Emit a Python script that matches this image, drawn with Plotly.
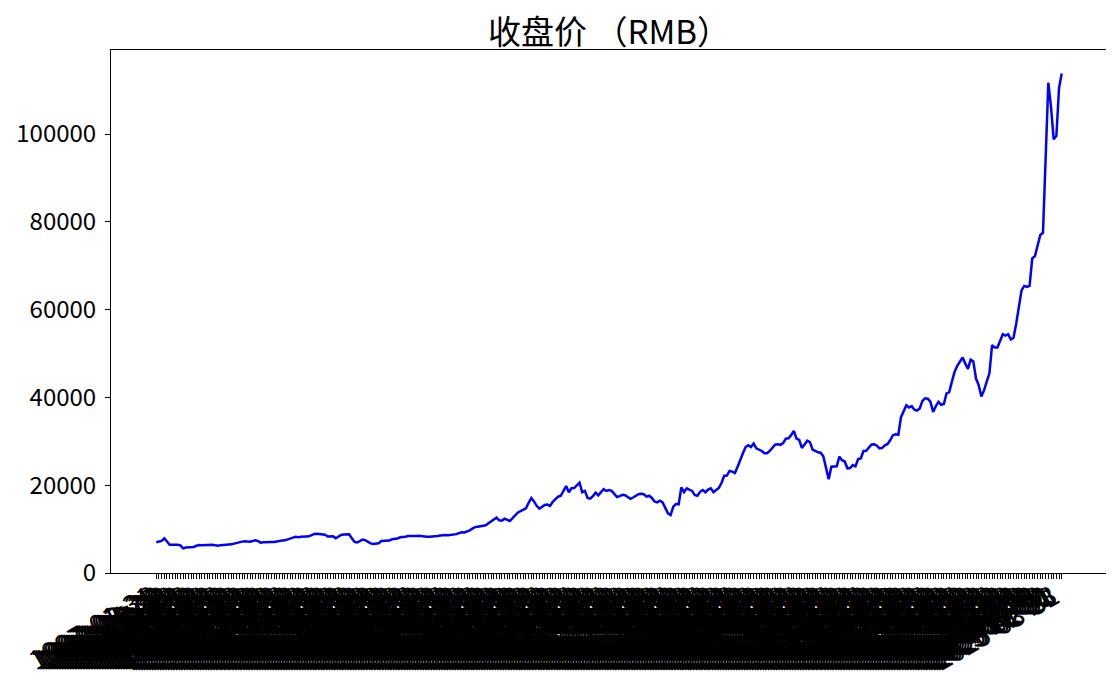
import pandas as pd
import plotly.graph_objects as go

# Tick labels (monthly dates, unreadable in the reference, dense rotated band)
dates = pd.date_range("1997-01-31", periods=339, freq="ME").strftime("%Y-%m-%d").tolist()

# Closing price values (RMB)
close_1 = [7000, 7100, 7300, 7900, 7100, 6450, 6450, 6500, 6450, 6300,
           5600, 5800, 5850, 5880, 5920, 6200, 6380, 6300, 6350, 6450,
           6530, 6450, 6300, 6220, 6350, 6450, 6480, 6500, 6530, 6700,
           6900, 7050, 7150, 7220, 7180, 7140, 7300, 7440, 7250, 6900,
           7000, 7060, 7000, 7050, 7060, 7200, 7360, 7400, 7440, 7600,
           7820, 8050, 8270, 8130, 8250, 8360, 8340, 8360, 8600, 8900,
           8950, 8900, 8880, 8700, 8300, 8250, 8360, 7900, 8300, 8650,
           8750, 8800, 8810, 7900, 7100, 6950, 7300, 7600, 7500, 7100,
           6750, 6600, 6700, 6760, 7290, 7320, 7350, 7400, 7670, 7700,
           7850, 8130, 8120, 8250, 8430, 8400, 8360, 8450, 8500, 8400]
close_2 = [8270, 8250, 8260, 8270, 8350, 8450, 8550, 8700, 8680, 8590,
           8650, 8750, 8850, 9100, 9270, 9250, 9400, 9700, 10100, 10450,
           10550, 10700, 10750, 10860, 11350, 11800, 12200, 12600, 12000, 11900,
           12370, 12100, 11850, 12500, 13200, 13800, 14100, 14350, 14740, 16000,
           17100, 16300, 15300, 14650, 15100, 15500, 15600, 15300, 16200, 16900,
           17380, 17600, 18600, 19800, 18400, 19300, 19360, 20000, 20570, 18400,
           18700, 17100, 16930, 17500, 18290, 17700, 18400, 19100, 18700, 18900,
           18700, 18100, 17300, 17500, 17800, 17700, 17300, 16900, 17200, 17600,
           17950, 18050, 17950, 17400, 17600, 17100, 16300, 16100, 16470, 16100,
           15000, 13600, 13210, 15100, 15700, 15650, 19500, 18400, 19290, 19000]
close_3 = [18700, 17800, 17600, 18500, 18900, 18400, 19000, 19300, 18400, 18900,
           19400, 20500, 22150, 22200, 23250, 23100, 22780, 24200, 25900, 27300,
           28700, 29100, 28700, 29500, 28400, 28100, 27800, 27300, 27300, 27800,
           28600, 29250, 29350, 29200, 29600, 30600, 30680, 31400, 32400, 30600,
           30300, 28500, 29300, 30140, 29800, 28100, 27800, 27500, 27400, 26600,
           24000, 21340, 24200, 24200, 24300, 26500, 25700, 25400, 23850, 23900,
           24600, 24300, 25950, 26100, 27800, 27850, 28600, 29300, 29320, 29000,
           28400, 28500, 29100, 29400, 30300, 31400, 31600, 31500, 35500, 37000,
           38200, 37700, 38000, 37200, 37000, 37500, 39200, 39800, 39700, 39000,
           36700, 38000, 39000, 38300, 38500, 40930, 41200, 43600, 45800, 47200]
close_4 = [48300, 49100, 47700, 46500, 48600, 48200, 44300, 42800, 40200, 41600,
           43600, 45500, 51900, 51400, 51400, 52800, 54400, 54100, 54400, 53200,
           53600, 56800, 61000, 64400, 65400, 65200, 65400, 71700, 72200, 74500,
           77000, 77500, 94500, 111700, 106200, 98800, 99600, 110500, 113800]
close = close_1 + close_2 + close_3 + close_4

title_text = "收盘价 （RMB）"
y_ticks = [0, 20000, 40000, 60000, 80000, 100000]

font_cjk = "Noto Sans CJK SC"
n = len(dates)

fig = go.Figure()
fig.add_trace(go.Scatter(
    x=dates, y=close, mode="lines",
    line=dict(color="#0000ff", width=2.5),
    showlegend=False, hoverinfo="x+y",
))

# The page body has an 8px default margin, so the figure is drawn 8px right and down
fig.update_layout(
    width=1106, height=680,
    margin=dict(l=103, r=7, t=42, b=115),
    paper_bgcolor="white", plot_bgcolor="white",
    title=dict(text=title_text, x=0.5, xref="paper", xanchor="center",
               y=1 - 24 / 680, yref="container", yanchor="middle",
               font=dict(family=font_cjk, size=33, color="#000")),
    font=dict(family=font_cjk, color="#000"),
)
fig.update_xaxes(
    type="category", automargin=False,
    range=[-0.05 * (n - 1), 1.05 * (n - 1)],
    tickmode="array", tickvals=dates, ticktext=dates,
    tickangle=-30,
    tickfont=dict(family=font_cjk, size=27, color="#000"),
    ticklabelstandoff=-8, ticklabelshift=-7,
    ticks="outside", ticklen=5, tickwidth=1, tickcolor="#000",
    showline=True, linecolor="#000", linewidth=1, mirror=True,
    showgrid=False, zeroline=False,
)
fig.update_yaxes(
    automargin=False,
    range=[0, 119150],
    tickmode="array", tickvals=y_ticks, ticktext=[str(v) for v in y_ticks],
    tickfont=dict(family=font_cjk, size=24, color="#000"),
    ticks="outside", ticklen=5, tickwidth=1, tickcolor="#000",
    ticklabelstandoff=4,
    showline=True, linecolor="#000", linewidth=1, mirror=True,
    showgrid=False, zeroline=False,
)

fig.write_html("out.html")
